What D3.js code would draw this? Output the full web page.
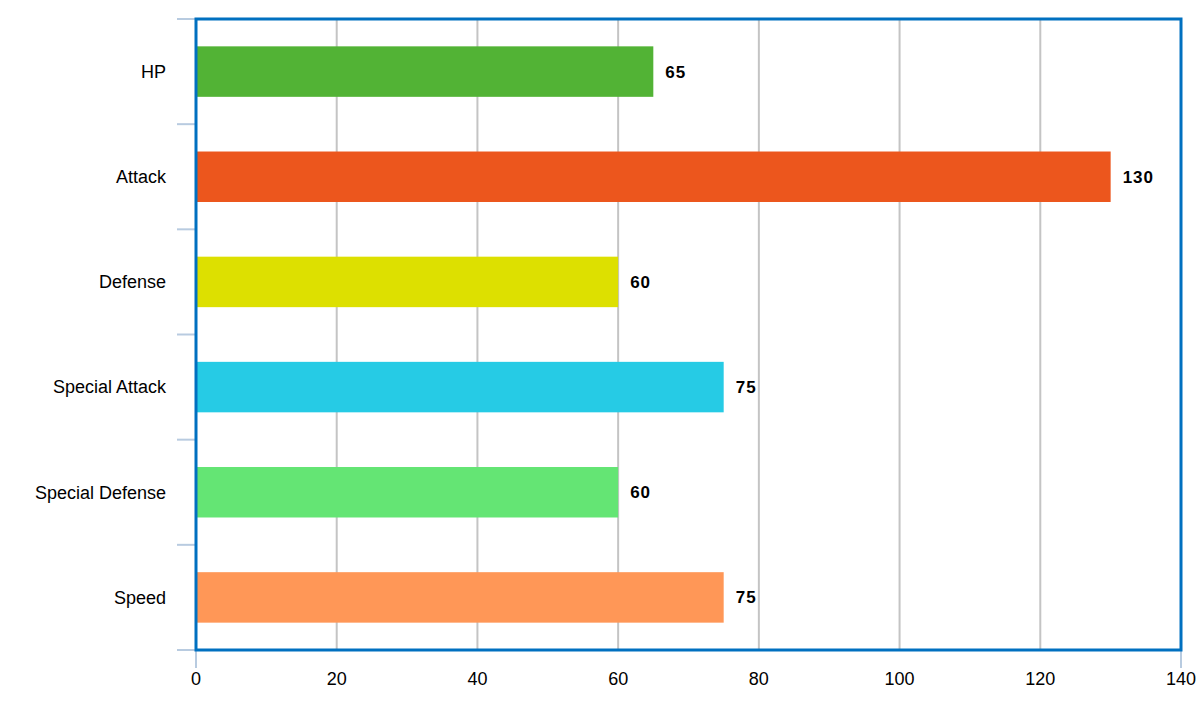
<!DOCTYPE html>
<html>
<head>
<meta charset="utf-8">
<script src="https://cdn.jsdelivr.net/npm/d3@7"></script>
<style>
  body { margin: 0; background: #fff; }
  svg text { font-family: "Liberation Sans", Arial, sans-serif; }
</style>
</head>
<body>
<svg id="chart" width="1200" height="712"></svg>
<script>
const stats = ["HP", "Attack", "Defense", "Special Attack", "Special Defense", "Speed"];
const values = [65, 130, 60, 75, 60, 75];
const colors = ["#52b335", "#ec561d", "#dde000", "#26cbe5", "#64e574", "#ff9757"];
const xTicks = [0, 20, 40, 60, 80, 100, 120, 140];

const svg = d3.select("#chart");
const margin = { top: 19, right: 19, bottom: 62, left: 196 };
const width = 1200, height = 712;
const x = d3.scaleLinear().domain([0, 140]).range([margin.left, width - margin.right]);
const y = d3.scaleBand().domain(stats).range([margin.top, height - margin.bottom]).paddingInner(0.52).paddingOuter(0.26);
const band = d3.scaleBand().domain(stats).range([margin.top, height - margin.bottom]);

// grid
svg.append("g").selectAll("line").data(xTicks.slice(1, -1)).join("line")
  .attr("x1", d => x(d)).attr("x2", d => x(d))
  .attr("y1", margin.top).attr("y2", height - margin.bottom)
  .attr("stroke", "#c4c4c4").attr("stroke-width", 2);

// bars
svg.append("g").selectAll("rect").data(stats).join("rect")
  .attr("x", x(0)).attr("y", d => y(d))
  .attr("width", (d, i) => x(values[i]) - x(0))
  .attr("height", y.bandwidth())
  .attr("fill", (d, i) => colors[i]);

// value labels
svg.append("g").selectAll("text").data(stats).join("text")
  .attr("x", (d, i) => x(values[i]) + 12)
  .attr("y", d => y(d) + y.bandwidth() / 2)
  .attr("dy", "0.35em")
  .attr("font-size", 17).attr("font-weight", "bold").attr("letter-spacing", 1)
  .text((d, i) => values[i]);

// left ticks
const tickColor = "#b8cbe0";
svg.append("g").selectAll("line").data(d3.range(stats.length + 1)).join("line")
  .attr("x1", 177).attr("x2", margin.left)
  .attr("y1", i => margin.top + i * band.bandwidth())
  .attr("y2", i => margin.top + i * band.bandwidth())
  .attr("stroke", tickColor).attr("stroke-width", 2);

svg.append("g").selectAll("text").data(stats).join("text")
  .attr("x", 166).attr("y", d => band(d) + band.bandwidth() / 2)
  .attr("dy", "0.35em").attr("text-anchor", "end").attr("font-size", 18)
  .text(d => d);

// bottom ticks at ends
svg.append("g").selectAll("line").data([0, 140]).join("line")
  .attr("x1", d => x(d)).attr("x2", d => x(d))
  .attr("y1", height - margin.bottom).attr("y2", 668)
  .attr("stroke", tickColor).attr("stroke-width", 2);

svg.append("g").selectAll("text").data(xTicks).join("text")
  .attr("x", d => x(d)).attr("y", 685)
  .attr("text-anchor", "middle").attr("font-size", 18)
  .text(d => d);

// frame
svg.append("rect")
  .attr("x", x(0)).attr("y", margin.top)
  .attr("width", x(140) - x(0)).attr("height", height - margin.bottom - margin.top)
  .attr("fill", "none").attr("stroke", "#0070c0").attr("stroke-width", 3);
</script>
</body>
</html>
